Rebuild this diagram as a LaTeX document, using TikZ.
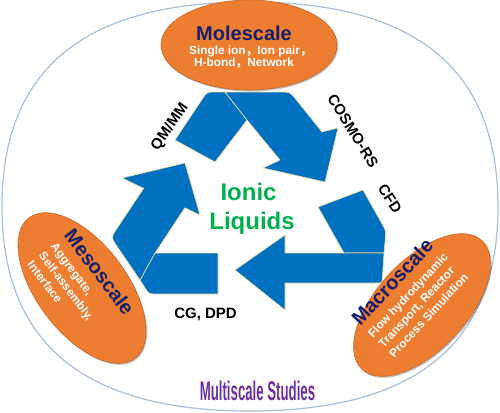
\documentclass[tikz,border=0pt]{standalone}
\usepackage{fontspec}
\usepackage{graphicx}
\setmainfont{Liberation Sans}
\newfontfamily\cjk{Noto Sans CJK SC}
\usetikzlibrary{shapes.geometric,shadows,calc}
\definecolor{ilorange}{HTML}{ED7D31}
\definecolor{ilorangedark}{HTML}{C9682A}
\definecolor{ilnavy}{HTML}{14206E}
\definecolor{ilblue}{HTML}{0070C0}
\definecolor{ilyellow}{HTML}{F2E19A}
\definecolor{ilgreen}{HTML}{00B050}
\definecolor{ilpurple}{HTML}{7030A0}
\definecolor{iloval}{HTML}{A8BFD9}
\begin{document}
\begin{tikzpicture}[x=1pt,y=-1pt,
  scaleoval/.style={ellipse, fill=ilorange, draw=ilorangedark, line width=0.6pt,
    minimum width=176pt, minimum height=90pt, inner sep=0pt,
    drop shadow={shadow xshift=1.2pt, shadow yshift=-1.5pt, fill=black, opacity=0.25}},
  titletext/.style={font=\fontsize{20}{23}\selectfont\bfseries, text=ilnavy, inner sep=0pt},
  subtext/.style={font=\fontsize{11.8}{14}\selectfont\bfseries, text=white, inner sep=0pt},
  cyclepart/.style={fill=ilblue, draw=ilyellow, line width=0.6pt, line join=round},
  methodlabel/.style={font=\fontsize{15}{18}\selectfont\bfseries, text=black, inner sep=0pt},
  centertext/.style={font=\fontsize{24}{30}\selectfont\bfseries, text=ilgreen, inner sep=0pt},
  bigoval/.style={draw=iloval, line width=1.2pt},
]
\useasboundingbox (0,0) rectangle (500,412);
\fill[white] (0,0) rectangle (500,412);

% outer rounded oval
\draw[bigoval] (2,206.5) .. controls (2,69.5) and (83.8,2) .. (250,2)
  .. controls (416.2,2) and (498,69.5) .. (498,206.5)
  .. controls (498,343.5) and (416.2,411) .. (250,411)
  .. controls (83.8,411) and (2,343.5) .. (2,206.5) -- cycle;

% corner coordinates of the recycling arrows
\coordinate (a1t1) at (175,140);
\coordinate (a1c) at (207,92);
\coordinate (a1f1) at (225,92);
\coordinate (a1f2) at (247,120);
\coordinate (a1t2) at (215,162);
\coordinate (a2c) at (290,92);
\coordinate (a2b1) at (322,132);
\coordinate (a2w1) at (338,128);
\coordinate (a2tip) at (325,182);
\coordinate (a2w2) at (263,168);
\coordinate (a2b2) at (280,160);
\coordinate (b1t1) at (318,207);
\coordinate (b1t2) at (363,190);
\coordinate (b1c) at (386,231);
\coordinate (b1f1) at (384,253);
\coordinate (b1f2) at (344,253);
\coordinate (b2a) at (285,253);
\coordinate (b2w1) at (285,235);
\coordinate (b2tip) at (235,270);
\coordinate (b2w2) at (285,310);
\coordinate (b2b) at (285,283);
\coordinate (b2c) at (382,283);
\coordinate (c1f1) at (155,253);
\coordinate (c1a) at (218,253);
\coordinate (c1b) at (218,294);
\coordinate (c1c) at (149,294);
\coordinate (c1f2) at (140,280);
\coordinate (c2c) at (111,237.5);
\coordinate (c2b1) at (143.7,188.3);
\coordinate (c2w1) at (122,178);
\coordinate (c2tip) at (185,163);
\coordinate (c2w2) at (200,215);
\coordinate (c2b2) at (184.8,207.8);

% arrow A (top)
\path[cyclepart] (a1t1) -- ($(a1c)!9pt!(a1t1)$) .. controls (a1c) .. ($(a1c)!9pt!(a1f1)$)
  -- (a1f1) -- (a1f2) -- (a1t2) -- cycle;
\path[cyclepart] (a1f1) -- ($(a2c)!10pt!(a1f1)$) .. controls (a2c) .. ($(a2c)!10pt!(a2b1)$)
  -- (a2b1) -- (a2w1) -- (a2tip) -- (a2w2) -- (a2b2) -- (a1f2) -- cycle;
% arrow B (right)
\path[cyclepart] (b1t1) -- (b1t2) -- ($(b1c)!8pt!(b1t2)$) .. controls (b1c) .. ($(b1c)!8pt!(b1f1)$)
  -- (b1f1) -- (b1f2) -- cycle;
\path[cyclepart] (b1f1) -- (b2a) -- (b2w1) -- (b2tip) -- (b2w2) -- (b2b)
  -- ($(b2c)!5pt!(b2b)$) .. controls (b2c) .. ($(b2c)!5pt!(b1f1)$) -- cycle;
% arrow C (left)
\path[cyclepart] (c1f1) -- (c1a) -- (c1b) -- ($(c1c)!7pt!(c1b)$) .. controls (c1c) .. ($(c1c)!7pt!(c1f2)$)
  -- (c1f2) -- cycle;
\path[cyclepart] (c1f2) -- ($(c2c)!10pt!(c1f2)$) .. controls (c2c) .. ($(c2c)!10pt!(c2b1)$)
  -- (c2b1) -- (c2w1) -- (c2tip) -- (c2w2) -- (c2b2) -- (c1f1) -- cycle;

% Molescale
\node[scaleoval] (mole) at (249,45) {};
\node[titletext, anchor=base west] (moletitle) at (196,41) {Molescale};
\node[subtext, anchor=base west] (mole1) at (189,55) {Single ion{\cjk ，}Ion pair{\cjk ，}};
\node[subtext, anchor=base west] (mole2) at (194,66.7) {H-bond{\cjk ，}Network};

% Mesoscale
\begin{scope}[shift={(82,288)}, rotate=-53, transform shape]
  \node[scaleoval] (meso) at (0,0) {};
  \node[titletext, anchor=base west] (mesotitle) at (-53,-16.5) {Mesoscale};
  \node[subtext, anchor=base west] (meso1) at (-52,0.5) {Aggregate,};
  \node[subtext, anchor=base west] (meso2) at (-52,15.5) {Self-assembly,};
  \node[subtext, anchor=base west] (meso3) at (-52,30) {Interface};
\end{scope}

% Macroscale
\begin{scope}[shift={(422,305)}, rotate=47, transform shape]
  \node[scaleoval] (macro) at (0,0) {};
  \node[titletext, anchor=base west] (macrotitle) at (-58,-30.5) {Macroscale};
  \node[subtext, anchor=base west] (macro1) at (-58,-13) {Flow hydrodynamic};
  \node[subtext, anchor=base west] (macro2) at (-58,1.5) {Transport, Reactor};
  \node[subtext, anchor=base west] (macro3) at (-58,16) {Process Simulation};
\end{scope}

% method labels
\node[methodlabel, rotate=55] (qmmm) at (170,127) {QM/MM};
\node[methodlabel, rotate=-58] (cosmo) at (353,131) {COSMO-RS};
\node[methodlabel, rotate=-57] (cfd) at (390,199) {CFD};
\node[methodlabel, anchor=base] (cgdpd) at (205.5,318.7) {CG, DPD};

% centre text
\node[centertext, anchor=base] (ionic) at (248.5,200) {Ionic};
\node[centertext, anchor=base] (liquids) at (252,229.5) {Liquids};

% bottom caption
\node[inner sep=0pt, text=ilpurple, anchor=base] (multi) at (257.5,400.5)
  {\scalebox{0.49}[1]{\fontsize{27}{27}\selectfont\bfseries Multiscale Studies}};
\end{tikzpicture}
\end{document}
